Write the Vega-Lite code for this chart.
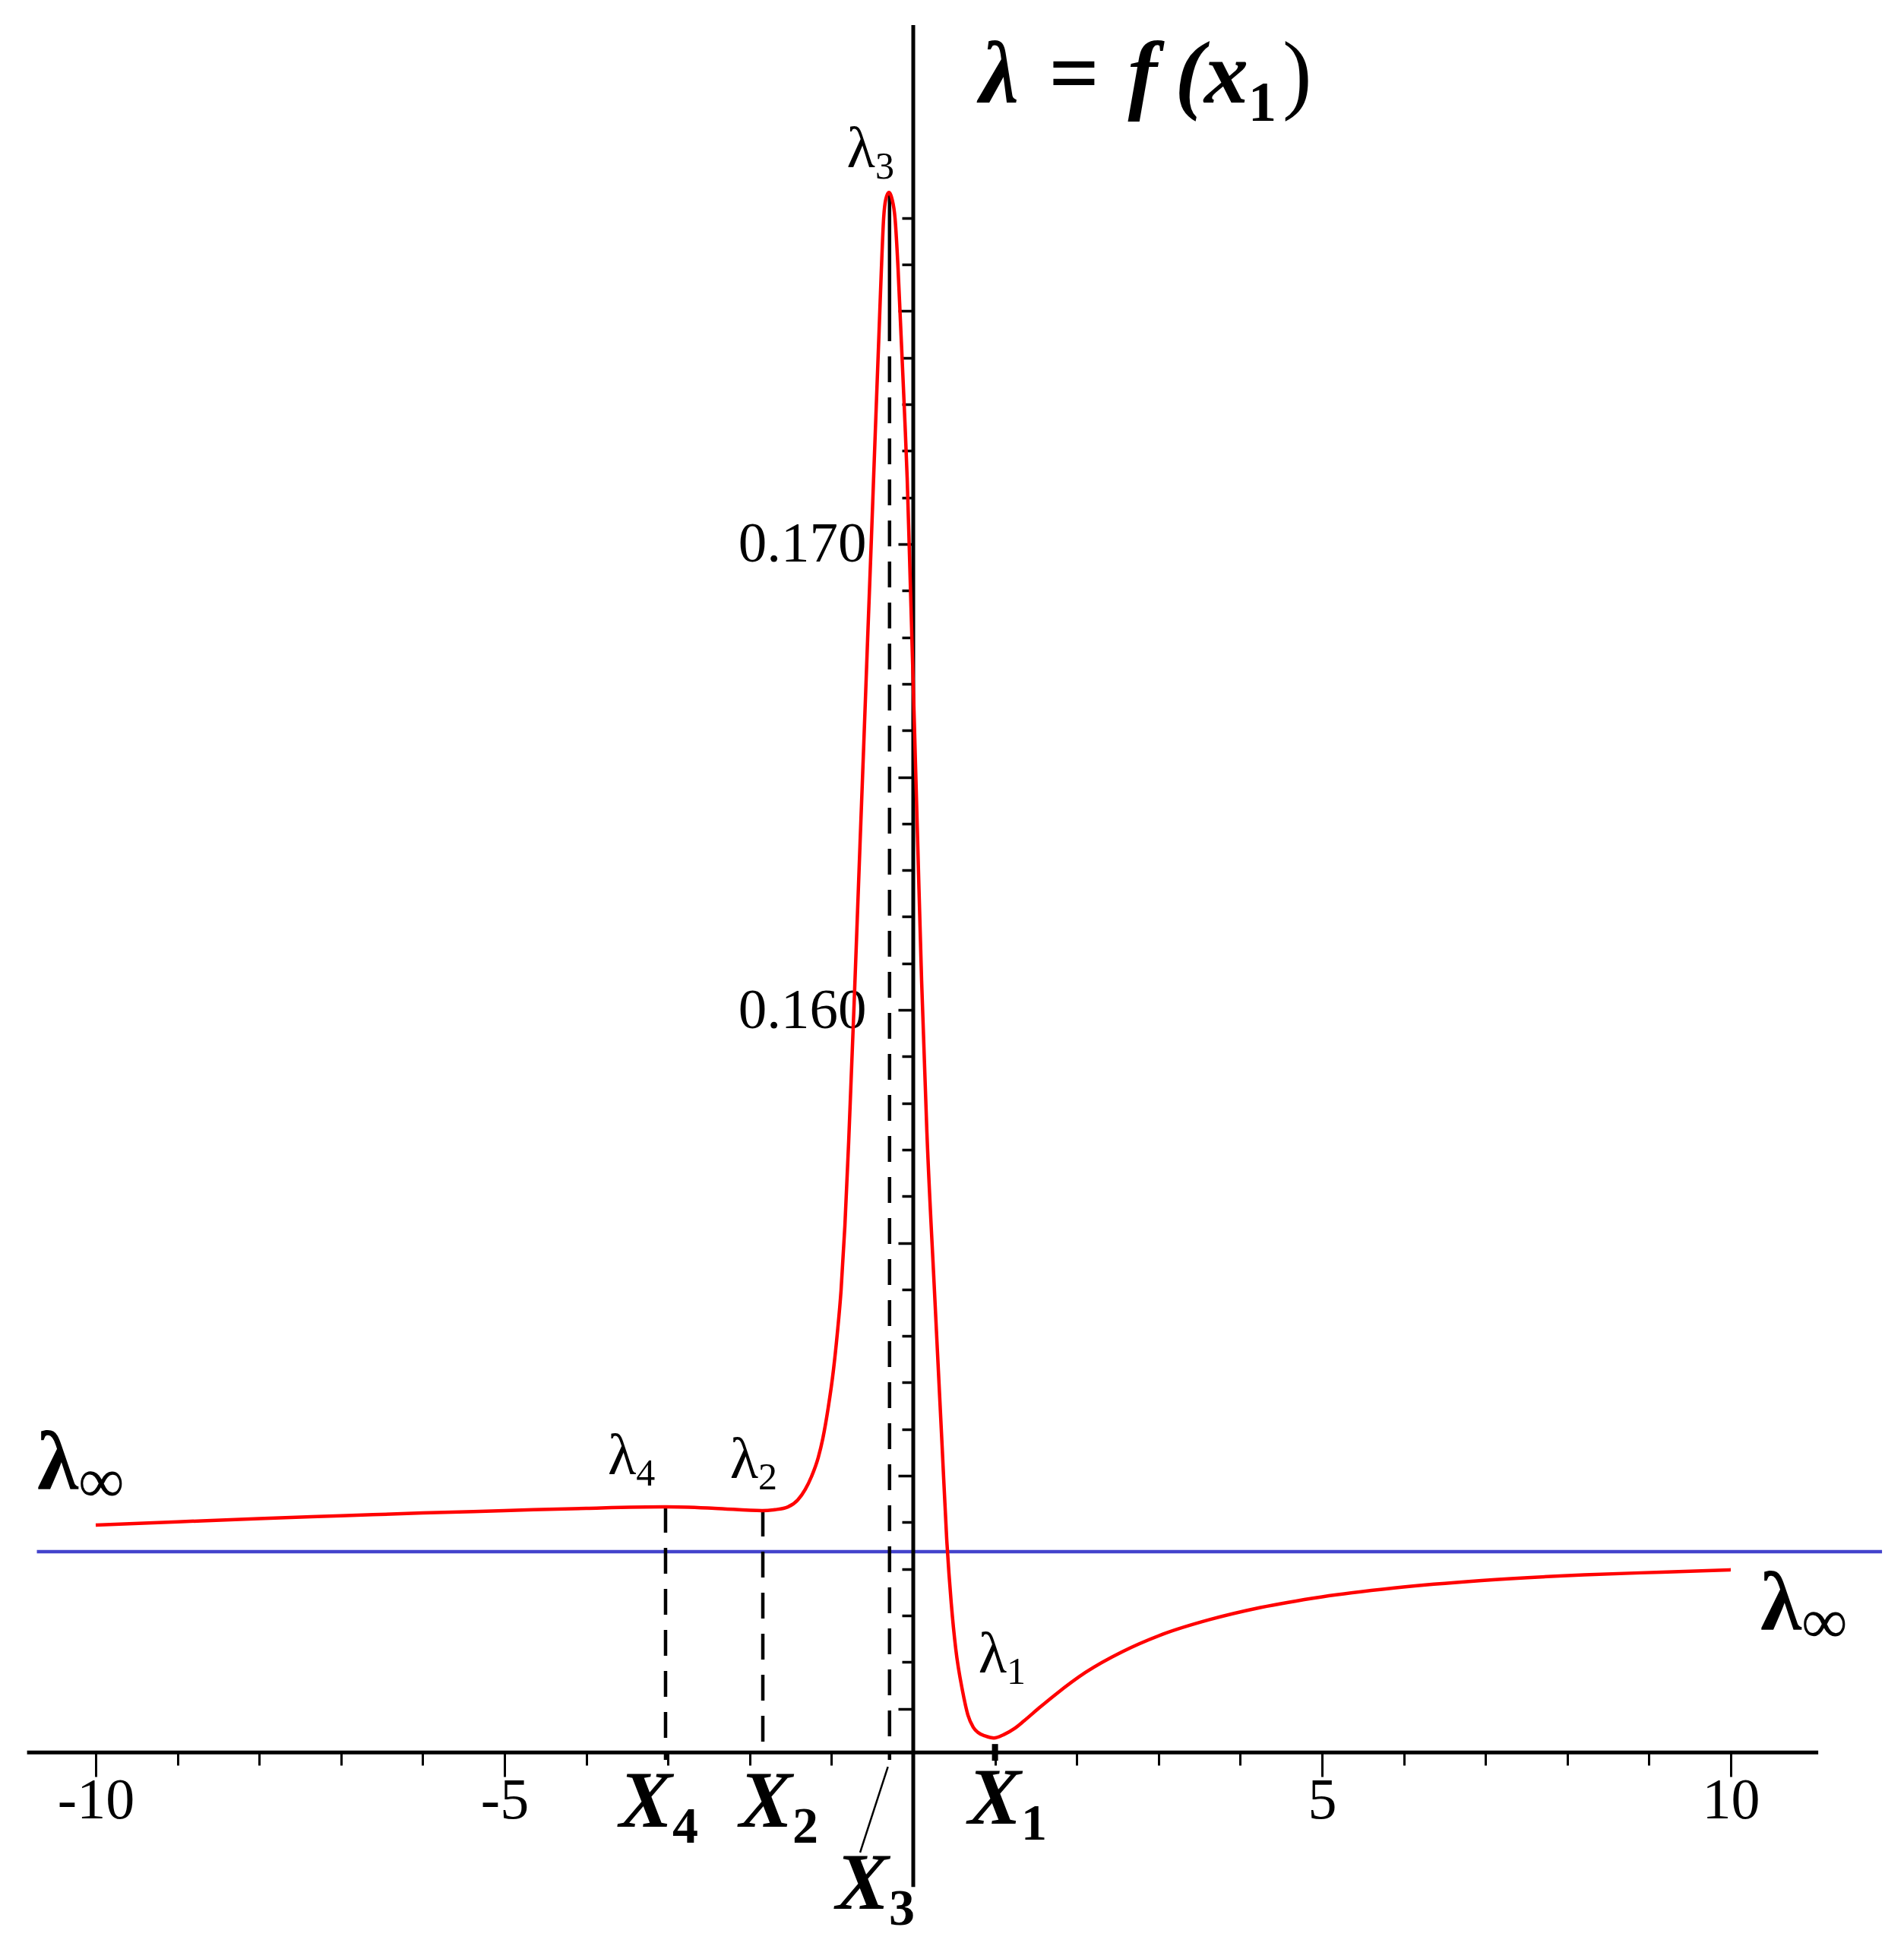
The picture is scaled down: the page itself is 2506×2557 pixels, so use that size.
{
  "$schema": "https://vega.github.io/schema/vega-lite/v6.json",
  "width": 2506,
  "height": 2557,
  "autosize": {"type": "none"},
  "padding": 0,
  "background": "white",
  "config": {"view": {"stroke": null}},
  "encoding": {
    "x": {
      "field": "x", "type": "quantitative",
      "scale": {"domain": [-11.171, 12.119], "nice": false, "zero": false},
      "axis": {
        "orient": "bottom", "offset": -251, "domain": false, "grid": false, "title": null,
        "values": [-10,-9,-8,-7,-6,-5,-4,-3,-2,-1,1,2,3,4,5,6,7,8,9,10],
        "tickColor": "black", "tickWidth": 3,
        "tickSize": {"condition": {"test": "datum.value % 5 === 0", "value": 32}, "value": 17},
        "labelExpr": "abs(datum.value) % 5 === 0 ? (datum.value < 0 ? '-' + abs(datum.value) : '' + datum.value) : ''",
        "labelFont": "Liberation Serif", "labelFontSize": 76, "labelColor": "black",
        "labelPadding": -6, "labelFlush": false, "labelOverlap": false
      }
    },
    "y": {
      "field": "y", "type": "quantitative",
      "scale": {"domain": [0.139968, 0.18168], "nice": false, "zero": false},
      "axis": {
        "orient": "left", "offset": -1202, "domain": false, "grid": false, "title": null,
        "values": [0.145,0.146,0.147,0.148,0.149,0.150,0.151,0.152,0.153,0.154,0.155,0.156,0.157,0.158,0.159,0.160,0.161,0.162,0.163,0.164,0.165,0.166,0.167,0.168,0.169,0.170,0.171,0.172,0.173,0.174,0.175,0.176,0.177],
        "tickColor": "black", "tickWidth": 3.5,
        "tickSize": {"condition": {"test": "abs(round(datum.value*1000)) % 5 === 0", "value": 20}, "value": 15},
        "labelExpr": "abs(datum.value-0.16) < 0.0001 || abs(datum.value-0.17) < 0.0001 ? format(datum.value, '.3f') : ''",
        "labelFont": "Liberation Serif", "labelFontSize": 75, "labelColor": "black",
        "labelPadding": 42, "labelFlush": false, "labelOverlap": false
      }
    }
  },
  "layer": [
    {
      "data": {"values": [{"x": -10.72, "x2": 11.85, "y": 0.14837}]},
      "mark": {"type": "rule", "color": "#4444cc", "strokeWidth": 4.5},
      "encoding": {"x2": {"field": "x2"}}
    },
    {
      "data": {"values": [{"x": -10.84, "x2": 11.07, "y": 0.14406}]},
      "mark": {"type": "rule", "color": "black", "strokeWidth": 5},
      "encoding": {"x2": {"field": "x2"}}
    },
    {
      "data": {"values": [{"x": 0, "y": 0.18114, "y2": 0.14117}]},
      "mark": {"type": "rule", "color": "black", "strokeWidth": 5},
      "encoding": {"y2": {"field": "y2"}}
    },
    {
      "data": {"values": [
        {"x": -3.03, "y": 0.14933, "y2": 0.14390},
        {"x": -1.84, "y": 0.14925, "y2": 0.14406},
        {"x": -0.29, "y": 0.17491, "y2": 0.14390}
      ]},
      "mark": {"type": "rule", "color": "black", "strokeWidth": 4.5, "strokeDash": [34, 20]},
      "encoding": {"y2": {"field": "y2"}}
    },
    {
      "data": {"values": [{"x": -0.29, "y": 0.1775, "y2": 0.17491}]},
      "mark": {"type": "rule", "color": "black", "strokeWidth": 4.5},
      "encoding": {"y2": {"field": "y2"}}
    },
    {
      "data": {"values": [{"x": -0.31, "y": 0.14375, "x2": -0.65, "y2": 0.14191}]},
      "mark": {"type": "rule", "color": "black", "strokeWidth": 2.5},
      "encoding": {"x2": {"field": "x2"}, "y2": {"field": "y2"}}
    },
    {
      "data": {"values": [
        {"x": -10.0, "y": 0.14894}, {"x": -9.0, "y": 0.14901}, {"x": -8.0, "y": 0.14908},
        {"x": -7.0, "y": 0.14914}, {"x": -6.0, "y": 0.14920}, {"x": -5.0, "y": 0.14925},
        {"x": -4.0, "y": 0.14930}, {"x": -3.03, "y": 0.14933}, {"x": -2.43, "y": 0.14930},
        {"x": -1.849, "y": 0.14925}, {"x": -1.691, "y": 0.14927}, {"x": -1.533, "y": 0.14933},
        {"x": -1.413, "y": 0.14948}, {"x": -1.320, "y": 0.14971}, {"x": -1.245, "y": 0.14998},
        {"x": -1.162, "y": 0.15039}, {"x": -1.106, "y": 0.15080}, {"x": -1.041, "y": 0.15145},
        {"x": -0.976, "y": 0.15227}, {"x": -0.929, "y": 0.15305}, {"x": -0.883, "y": 0.15398},
        {"x": -0.836, "y": 0.15537}, {"x": -0.790, "y": 0.15716}, {"x": -0.716, "y": 0.16047},
        {"x": -0.651, "y": 0.16356}, {"x": -0.604, "y": 0.16576}, {"x": -0.558, "y": 0.16796},
        {"x": -0.511, "y": 0.17016}, {"x": -0.465, "y": 0.17237}, {"x": -0.418, "y": 0.17457},
        {"x": -0.390, "y": 0.17589}, {"x": -0.362, "y": 0.17700}, {"x": -0.335, "y": 0.17741},
        {"x": -0.297, "y": 0.17755}, {"x": -0.260, "y": 0.17741}, {"x": -0.223, "y": 0.17700},
        {"x": -0.186, "y": 0.17592}, {"x": -0.158, "y": 0.17483}, {"x": -0.130, "y": 0.17374},
        {"x": -0.102, "y": 0.17263}, {"x": -0.074, "y": 0.17140}, {"x": -0.046, "y": 0.16977},
        {"x": 0.009, "y": 0.16643}, {"x": 0.056, "y": 0.16349}, {"x": 0.102, "y": 0.16064},
        {"x": 0.167, "y": 0.15737}, {"x": 0.260, "y": 0.15395}, {"x": 0.353, "y": 0.15064},
        {"x": 0.409, "y": 0.14865}, {"x": 0.465, "y": 0.14726}, {"x": 0.520, "y": 0.14628},
        {"x": 0.604, "y": 0.14537}, {"x": 0.669, "y": 0.14486}, {"x": 0.734, "y": 0.14460},
        {"x": 0.790, "y": 0.14449}, {"x": 0.883, "y": 0.14441}, {"x": 0.985, "y": 0.14437},
        {"x": 1.106, "y": 0.14444}, {"x": 1.236, "y": 0.14457}, {"x": 1.357, "y": 0.14474},
        {"x": 1.543, "y": 0.14502}, {"x": 1.738, "y": 0.14530}, {"x": 2.110, "y": 0.14578},
        {"x": 2.556, "y": 0.14622}, {"x": 3.058, "y": 0.14660}, {"x": 3.625, "y": 0.14691},
        {"x": 4.247, "y": 0.14717}, {"x": 5.000, "y": 0.14740}, {"x": 5.883, "y": 0.14759},
        {"x": 6.952, "y": 0.14775}, {"x": 8.206, "y": 0.14787}, {"x": 9.154, "y": 0.14793},
        {"x": 10.0, "y": 0.14798}
      ]},
      "mark": {"type": "line", "color": "#ff0000", "strokeWidth": 4.5, "interpolate": "monotone"},
      "encoding": {}
    },
    {
      "data": {"values": [{"x": 1.0, "y": 0.14406}]},
      "mark": {"type": "tick", "orient": "vertical", "size": 22, "thickness": 8, "color": "black", "opacity": 1},
      "encoding": {}
    },
    {
      "data": {"values": [
        {"x": -0.465, "y": 0.17809, "base": "λ", "sub": "3"},
        {"x": -3.39, "y": 0.15003, "base": "λ", "sub": "4"},
        {"x": -1.896, "y": 0.14995, "base": "λ", "sub": "2"},
        {"x": 1.143, "y": 0.14577, "base": "λ", "sub": "1"}
      ]},
      "layer": [
        {"mark": {"type": "text", "align": "right", "baseline": "alphabetic", "font": "Liberation Serif", "fontSize": 77, "color": "black"},
         "encoding": {"text": {"field": "base"}}},
        {"mark": {"type": "text", "align": "left", "baseline": "alphabetic", "dy": 15, "font": "Liberation Serif", "fontSize": 50, "color": "black"},
         "encoding": {"text": {"field": "sub"}}}
      ]
    },
    {
      "data": {"values": [
        {"x": -10.214, "y": 0.14971, "base": "λ", "sub": "∞"},
        {"x": 10.864, "y": 0.14669, "base": "λ", "sub": "∞"}
      ]},
      "layer": [
        {"mark": {"type": "text", "align": "right", "baseline": "alphabetic", "font": "Liberation Serif", "fontWeight": "bold", "fontSize": 110, "color": "black"},
         "encoding": {"text": {"field": "base"}}},
        {"mark": {"type": "text", "align": "left", "baseline": "alphabetic", "dy": 17, "font": "Liberation Serif", "fontSize": 85, "color": "black"},
         "encoding": {"text": {"field": "sub"}}}
      ]
    },
    {
      "data": {"values": [
        {"x": -2.946, "y": 0.14246, "base": "X", "sub": "4"},
        {"x": -1.478, "y": 0.14246, "base": "X", "sub": "2"},
        {"x": 1.320, "y": 0.14253, "base": "X", "sub": "1"},
        {"x": -0.297, "y": 0.14070, "base": "X", "sub": "3"}
      ]},
      "layer": [
        {"mark": {"type": "text", "align": "right", "baseline": "alphabetic", "font": "Liberation Serif", "fontWeight": "bold", "fontStyle": "italic", "fontSize": 105, "color": "black"},
         "encoding": {"text": {"field": "base"}}},
        {"mark": {"type": "text", "align": "left", "baseline": "alphabetic", "dy": 21, "font": "Liberation Serif", "fontWeight": "bold", "fontSize": 68, "color": "black"},
         "encoding": {"text": {"field": "sub"}}}
      ]
    },
    {
      "data": {"values": [
        {"x": 4.099, "y": 0.17948, "base": "λ\u2004=\u2004f\u2009(x", "sub": "1", "close": ")", "xc": 4.517}
      ]},
      "layer": [
        {"mark": {"type": "text", "align": "right", "baseline": "alphabetic", "font": "Liberation Serif", "fontWeight": "bold", "fontStyle": "italic", "fontSize": 116, "color": "black"},
         "encoding": {"text": {"field": "base"}}},
        {"mark": {"type": "text", "align": "left", "baseline": "alphabetic", "dy": 24, "font": "Liberation Serif", "fontWeight": "bold", "fontSize": 74, "color": "black"},
         "encoding": {"text": {"field": "sub"}}},
        {"mark": {"type": "text", "align": "left", "baseline": "alphabetic", "font": "Liberation Serif", "fontSize": 116, "color": "black"},
         "encoding": {"x": {"field": "xc", "type": "quantitative"}, "text": {"field": "close"}}}
      ]
    }
  ]
}
